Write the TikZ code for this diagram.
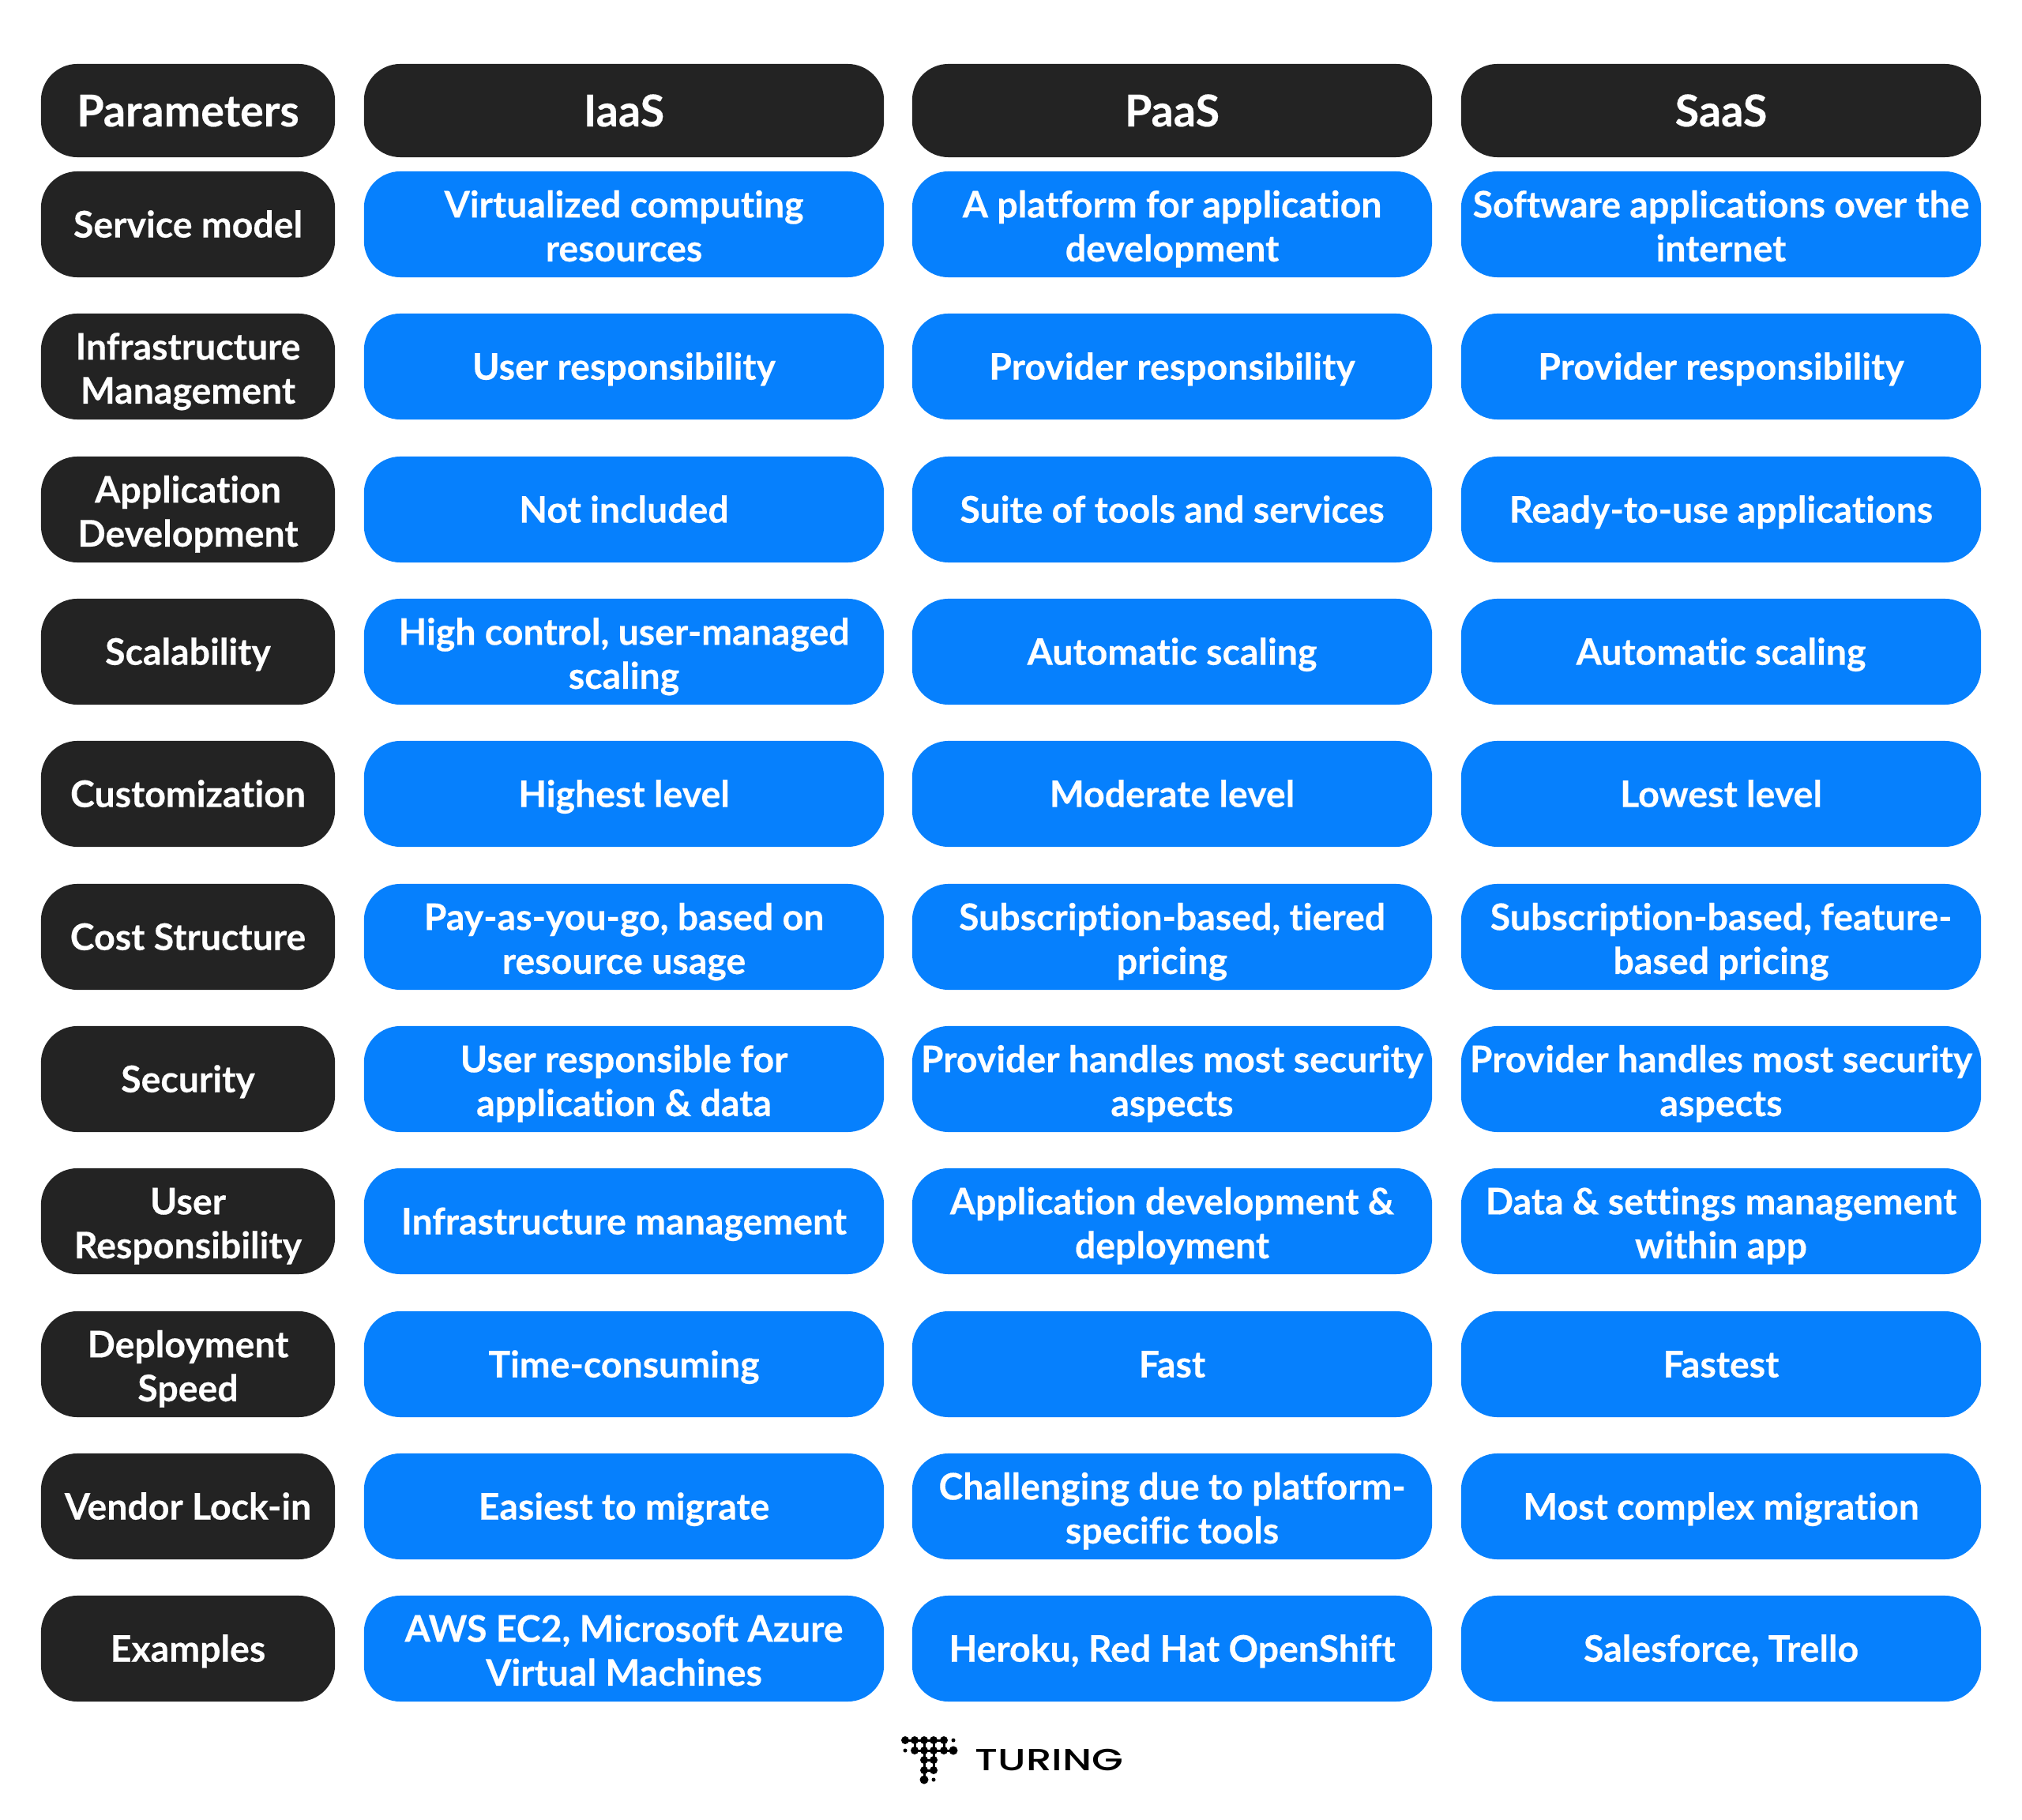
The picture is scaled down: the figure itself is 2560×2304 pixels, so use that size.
\documentclass[tikz,border=0pt]{standalone}
\usepackage{fontspec}
\setmainfont{Lato}[UprightFont=* Bold,Ligatures=NoCommon,FakeBold=0.35]
\newfontfamily\logofont{Poppins}[UprightFont=* Medium]
\usetikzlibrary{positioning}
\definecolor{cellblue}{HTML}{0680FD}
\definecolor{celldark}{HTML}{232323}
\newcommand{\cellstrut}{\rule[-0.18\baselineskip]{0pt}{0.96\baselineskip}}
\newcommand{\cellbreak}{\rule{0pt}{0.87\baselineskip}\\\cellstrut}

\begin{document}
\begin{tikzpicture}[x=0.01cm,y=-0.01cm]
	\tikzstyle{cell} = [shape=rectangle,rounded corners=0.46cm,text=white,align=center,inner sep=0,minimum height=1.34cm,font=\fontsize{13.2}{15.8}\selectfont,execute at begin node=\cellstrut]
	\tikzstyle{param} = [cell,fill=celldark,minimum width=3.72cm]
	\tikzstyle{value} = [cell,fill=cellblue,minimum width=6.58cm]
	\tikzstyle{headparam} = [param,minimum height=1.18cm,font=\fontsize{15.8}{19}\selectfont]
	\tikzstyle{headvalue} = [headparam,minimum width=6.58cm]
	\useasboundingbox (0,0) rectangle (2560,2304);
	% header
	\node [headparam] (h0) at (238,140) {Parameters};
	\node [headvalue] (h1) at (790,140) {IaaS};
	\node [headvalue] (h2) at (1484,140) {PaaS};
	\node [headvalue] (h3) at (2179,140) {SaaS};
	% service model
	\node [param] (m0) at (238,284) {Service model};
	\node [value] (m1) at (790,284) {Virtualized computing\cellbreak resources};
	\node [value] (m2) at (1484,284) {A platform for application\cellbreak development};
	\node [value] (m3) at (2179,284) {Software applications over the\cellbreak internet};
	% infrastructure
	\node [param] (f0) at (238,464) {Infrastructure\cellbreak Management};
	\node [value] (f1) at (790,464) {User responsibility};
	\node [value] (f2) at (1484,464) {Provider responsibility};
	\node [value] (f3) at (2179,464) {Provider responsibility};
	% application
	\node [param] (a0) at (238,645) {Application\cellbreak Development};
	\node [value] (a1) at (790,645) {Not included};
	\node [value] (a2) at (1484,645) {Suite of tools and services};
	\node [value] (a3) at (2179,645) {Ready-to-use applications};
	% scalability
	\node [param] (s0) at (238,825) {Scalability};
	\node [value] (s1) at (790,825) {High control, user-managed\cellbreak scaling};
	\node [value] (s2) at (1484,825) {Automatic scaling};
	\node [value] (s3) at (2179,825) {Automatic scaling};
	% customization
	\node [param] (c0) at (238,1005) {Customization};
	\node [value] (c1) at (790,1005) {Highest level};
	\node [value] (c2) at (1484,1005) {Moderate level};
	\node [value] (c3) at (2179,1005) {Lowest level};
	% cost
	\node [param] (k0) at (238,1186) {Cost Structure};
	\node [value] (k1) at (790,1186) {Pay-as-you-go, based on\cellbreak resource usage};
	\node [value] (k2) at (1484,1186) {Subscription-based, tiered\cellbreak pricing};
	\node [value] (k3) at (2179,1186) {Subscription-based, feature-\cellbreak based pricing};
	% security
	\node [param] (y0) at (238,1366) {Security};
	\node [value] (y1) at (790,1366) {User responsible for\cellbreak application \& data};
	\node [value] (y2) at (1484,1366) {Provider handles most security\cellbreak aspects};
	\node [value] (y3) at (2179,1366) {Provider handles most security\cellbreak aspects};
	% user responsibility
	\node [param] (u0) at (238,1546) {User\cellbreak Responsibility};
	\node [value] (u1) at (790,1546) {Infrastructure management};
	\node [value] (u2) at (1484,1546) {Application development \&\cellbreak deployment};
	\node [value] (u3) at (2179,1546) {Data \& settings management\cellbreak within app};
	% deployment
	\node [param] (d0) at (238,1727) {Deployment\cellbreak Speed};
	\node [value] (d1) at (790,1727) {Time-consuming};
	\node [value] (d2) at (1484,1727) {Fast};
	\node [value] (d3) at (2179,1727) {Fastest};
	% vendor
	\node [param] (v0) at (238,1907) {Vendor Lock-in};
	\node [value] (v1) at (790,1907) {Easiest to migrate};
	\node [value] (v2) at (1484,1907) {Challenging due to platform-\cellbreak specific tools};
	\node [value] (v3) at (2179,1907) {Most complex migration};
	% examples
	\node [param] (e0) at (238,2087) {Examples};
	\node [value] (e1) at (790,2087) {AWS EC2, Microsoft Azure\cellbreak Virtual Machines};
	\node [value] (e2) at (1484,2087) {Heroku, Red Hat OpenShift};
	\node [value] (e3) at (2179,2087) {Salesforce, Trello};
	% logo
	\fill (1146,2203) circle [radius=5] (1158,2203) circle [radius=5] (1170,2203) circle [radius=5] (1182,2203) circle [radius=5] (1195,2203) circle [radius=5] (1207,2203) circle [radius=2.5];
	\fill (1146,2216) circle [radius=2.5] (1158,2216) circle [radius=5] (1170,2216) circle [radius=5] (1182,2216) circle [radius=5] (1195,2216) circle [radius=5] (1207,2216) circle [radius=5.5];
	\fill (1170,2228) circle [radius=5] (1182,2228) circle [radius=5] (1170,2241) circle [radius=5] (1182,2241) circle [radius=5] (1170,2253) circle [radius=5.5] (1182,2253) circle [radius=2.5];
	\draw [line width=0.03cm] (1146,2203) -- (1195,2203) (1158,2216) -- (1207,2216) (1158,2203) -- (1158,2216) (1170,2203) -- (1170,2253) (1182,2203) -- (1182,2241) (1195,2203) -- (1195,2216) (1170,2228) -- (1182,2228) (1170,2241) -- (1182,2241);
	\node [inner sep=0,anchor=west,xscale=1.33,font=\logofont\fontsize{11}{11}\selectfont] (logo) at (1234,2228) {TURING};
\end{tikzpicture}
\end{document}
